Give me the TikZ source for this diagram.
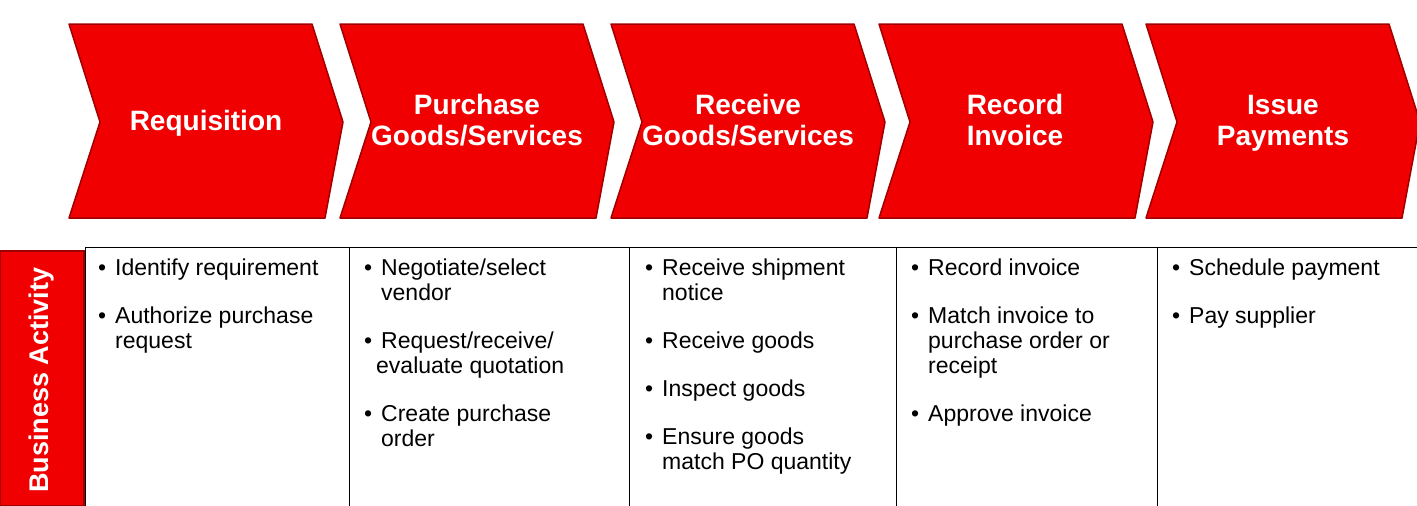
\documentclass[tikz,border=0pt]{standalone}
\usepackage{fontspec}
\setmainfont{Liberation Sans}
\definecolor{cred}{HTML}{F00000}
\definecolor{dred}{HTML}{A00000}
\begin{document}
\begin{tikzpicture}[x=1pt,y=-1pt,
  chev/.style={fill=cred,draw=dred,line width=1.5pt,line join=round},
  ttl/.style={text=white,font=\fontsize{28}{31}\selectfont\bfseries,align=center},
  cell/.style={anchor=north west,align=left,font=\fontsize{23}{25}\selectfont,inner sep=0pt},
  grid/.style={draw=black,line width=1pt}]
\useasboundingbox (0,0) rectangle (1417,506);
\foreach \x/\n in {69/a,340/b,611/c,879/d,1146/e}{
  \path[chev] (\x,24) -- ++(243,0) -- ++(31,98) -- ++(-18,96) -- ++(-256,0) -- ++(31,-96) -- cycle;
}
\node[ttl] (t1) at (206,123) {Requisition};
\node[ttl] (t2) at (477,120) {Purchase\\Goods/Services};
\node[ttl] (t3) at (748,120) {Receive\\Goods/Services};
\node[ttl] (t4) at (1015,120) {Record\\Invoice};
\node[ttl] (t5) at (1283,123) {Issue\\Payments};
% table
\path[fill=cred,draw=dred,line width=1.2pt] (0,251) rectangle (84,506);
\node[rotate=90,text=white,font=\fontsize{27}{30}\selectfont\bfseries] (ba) at (42,380) {Business Activity};
\draw[grid] (85,247) -- (1417,247);
\foreach \x in {85,349,629,896,1157} \draw[grid] (\x,247) -- (\x,506);
\def\b{\makebox[17pt][l]{\textbullet}}
\node[cell] (c1) at (98,259) {\b Identify requirement\\[23pt]\b Authorize purchase\\\hspace{17pt}request};
\node[cell] (c2) at (364,259) {\b Negotiate/select\\\hspace{17pt}vendor\\[23pt]\b Request/receive/\\\hspace{12pt}evaluate quotation\\[23pt]\b Create purchase\\\hspace{17pt}order};
\node[cell] (c3) at (645,259) {\b Receive shipment\\\hspace{17pt}notice\\[23pt]\b Receive goods\\[23pt]\b Inspect goods\\[23pt]\b Ensure goods\\\hspace{17pt}match PO quantity};
\node[cell] (c4) at (911,259) {\b Record invoice\\[23pt]\b Match invoice to\\\hspace{17pt}purchase order or\\\hspace{17pt}receipt\\[23pt]\b Approve invoice};
\node[cell] (c5) at (1172,259) {\b Schedule payment\\[23pt]\b Pay supplier};
\end{tikzpicture}
\end{document}
